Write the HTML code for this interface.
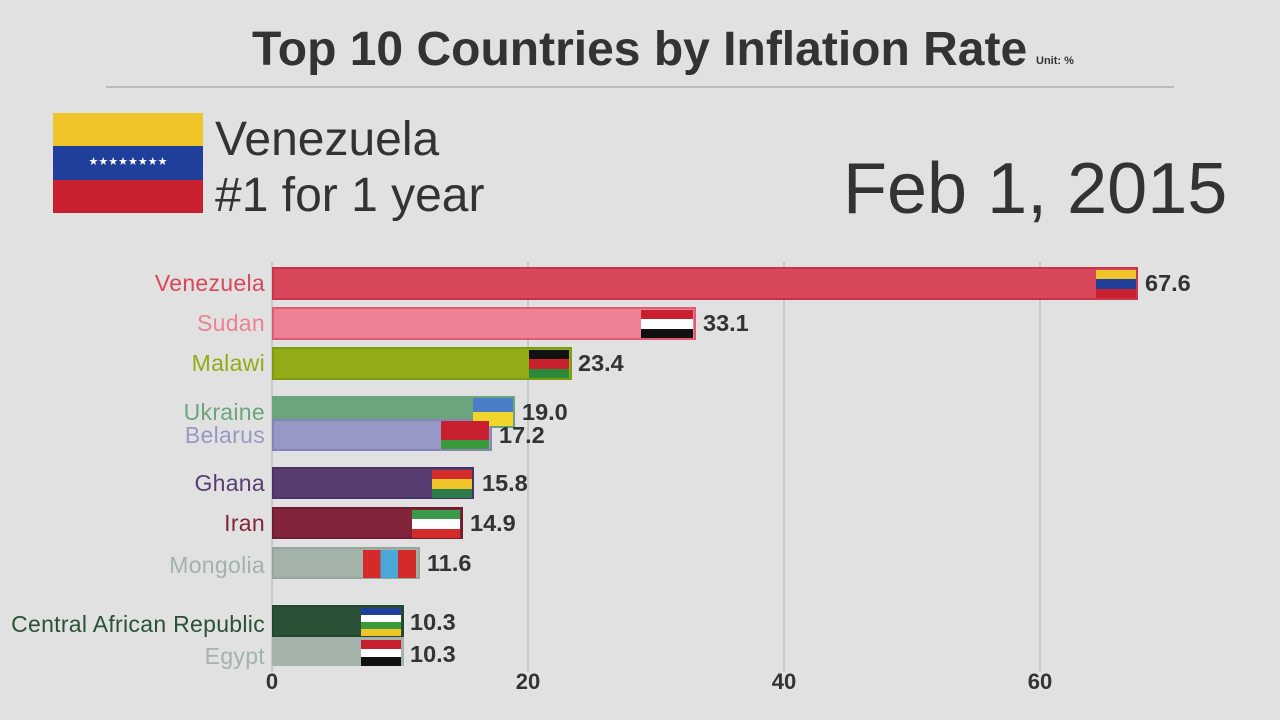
<!DOCTYPE html>
<html><head><meta charset="utf-8"><style>
body{margin:0;width:1280px;height:720px;background:#e1e1e1;position:relative;overflow:hidden;font-family:"Liberation Sans",sans-serif}
.a{position:absolute}
.bar{position:absolute;left:272px;box-sizing:border-box}
.lab{position:absolute;right:1015px;font-size:23px;letter-spacing:0.3px;text-align:right;white-space:nowrap}
.val{position:absolute;font-size:23.5px;font-weight:bold;color:#333}
.grid{position:absolute;top:262px;width:2px;height:410px;background:#c8c8c8}
.tick{position:absolute;top:669px;font-size:22px;font-weight:bold;color:#333;width:60px;margin-left:-30px;text-align:center}
.f{position:absolute;height:28px;width:40px;display:flex;flex-direction:column}
.f div{flex:1}
</style></head><body>
<div class="a" style="left:252px;top:22px;font-size:48px;font-weight:bold;color:#333">Top 10 Countries by Inflation Rate</div>
<div class="a" style="left:1036px;top:55px;font-size:11px;font-weight:bold;color:#333">Unit: %</div>
<div class="a" style="left:106px;top:86px;width:1068px;height:2px;background:#bdbdbd"></div>
<div class="a" style="left:53px;top:113px;width:150px;height:100px;display:flex;flex-direction:column"><div style="flex:1;background:#efc52a"></div><div style="flex:1;background:#1f3f9a;color:#fff;font-size:11px;text-align:center;line-height:33px">★★★★★★★★</div><div style="flex:1;background:#c8202f"></div></div>
<div class="a" style="left:215px;top:112px;font-size:48px;color:#333">Venezuela</div>
<div class="a" style="left:215px;top:168px;font-size:48px;color:#333">#1 for 1 year</div>
<div class="a" style="left:843px;top:148px;font-size:72px;color:#333">Feb 1, 2015</div>

<div class="grid" style="left:527px"></div><div class="grid" style="left:783px"></div><div class="grid" style="left:1039px"></div>
<div class="a" style="left:271px;top:262px;width:2px;height:410px;background:#c8c8c8"></div>
<div class="tick" style="left:272px">0</div><div class="tick" style="left:528px">20</div><div class="tick" style="left:784px">40</div><div class="tick" style="left:1040px">60</div>

<div class="bar" style="top:267px;height:33px;width:866px;background:#d8475b;border:2px solid #c8354b"></div>
<div class="bar" style="top:307px;height:33px;width:424px;background:#ee8193;border:2px solid #e05a75"></div>
<div class="bar" style="top:347px;height:33px;width:300px;background:#92ab16;border:2px solid #7d9a10"></div>
<div class="bar" style="top:396px;height:32px;width:243px;background:#6aa57e;border:2px solid #6aa57e"></div>
<div class="bar" style="top:419px;height:32px;width:220px;background:#9898c6;border:2px solid #8585b5"></div>
<div class="bar" style="top:467px;height:32px;width:202px;background:#573d72;border:2px solid #4a3166"></div>
<div class="bar" style="top:507px;height:32px;width:191px;background:#82243a;border:2px solid #6f1c30"></div>
<div class="bar" style="top:547px;height:32px;width:148px;background:#a3b3aa;border:2px solid #97a69d"></div>
<div class="bar" style="top:605px;height:32px;width:132px;background:#2a5036;border:2px solid #244530"></div>
<div class="bar" style="top:637px;height:29px;width:132px;background:#a3b3aa"></div>

<div class="f" style="left:1096px;top:270px"><div style="background:#efc52a"></div><div style="background:#1f3f9a"></div><div style="background:#c8202f"></div></div>
<div class="f" style="left:641px;top:310px;width:52px"><div style="background:#c8202f"></div><div style="background:#fff"></div><div style="background:#111"></div></div>
<div class="f" style="left:529px;top:350px"><div style="background:#111"></div><div style="background:#c8202f"></div><div style="background:#2a8a3a"></div></div>
<div class="f" style="left:473px;top:398px"><div style="background:#4c7ec8"></div><div style="background:#efd42a"></div></div>
<div class="f" style="left:441px;top:421px;width:48px"><div style="flex:2;background:#c8202f"></div><div style="background:#3a9a3a"></div></div>
<div class="f" style="left:432px;top:470px"><div style="background:#d32a2a"></div><div style="background:#efc52a"></div><div style="background:#2a7a4a"></div></div>
<div class="f" style="left:412px;top:510px;width:48px"><div style="background:#3a9a4a"></div><div style="background:#fff"></div><div style="background:#d32a2a"></div></div>
<div class="a" style="left:363px;top:550px;width:53px;height:28px;background:linear-gradient(90deg,#d32a2a 33%,#4aa8d8 33% 66%,#d32a2a 66%)"></div>
<div class="f" style="left:361px;top:608px"><div style="background:#1f3f9a"></div><div style="background:#fff"></div><div style="background:#3a9a3a"></div><div style="background:#efc52a"></div></div>
<div class="f" style="left:361px;top:640px;height:26px"><div style="background:#c8202f"></div><div style="background:#fff"></div><div style="background:#111"></div></div>

<div class="lab" style="top:270px;color:#d8475b">Venezuela</div>
<div class="lab" style="top:310px;color:#ee8193">Sudan</div>
<div class="lab" style="top:350px;color:#92ab16">Malawi</div>
<div class="lab" style="top:399px;color:#6aa57e">Ukraine</div>
<div class="lab" style="top:422px;color:#9898c6">Belarus</div>
<div class="lab" style="top:470px;color:#573d72">Ghana</div>
<div class="lab" style="top:510px;color:#82243a">Iran</div>
<div class="lab" style="top:552px;color:#a3b3aa">Mongolia</div>
<div class="lab" style="top:611px;color:#2a5036">Central African Republic</div>
<div class="lab" style="top:643px;color:#a3b3aa">Egypt</div>

<div class="val" style="left:1145px;top:270px">67.6</div>
<div class="val" style="left:703px;top:310px">33.1</div>
<div class="val" style="left:578px;top:350px">23.4</div>
<div class="val" style="left:522px;top:399px">19.0</div>
<div class="val" style="left:499px;top:422px">17.2</div>
<div class="val" style="left:482px;top:470px">15.8</div>
<div class="val" style="left:470px;top:510px">14.9</div>
<div class="val" style="left:427px;top:550px">11.6</div>
<div class="val" style="left:410px;top:609px">10.3</div>
<div class="val" style="left:410px;top:641px">10.3</div>
</body></html>
